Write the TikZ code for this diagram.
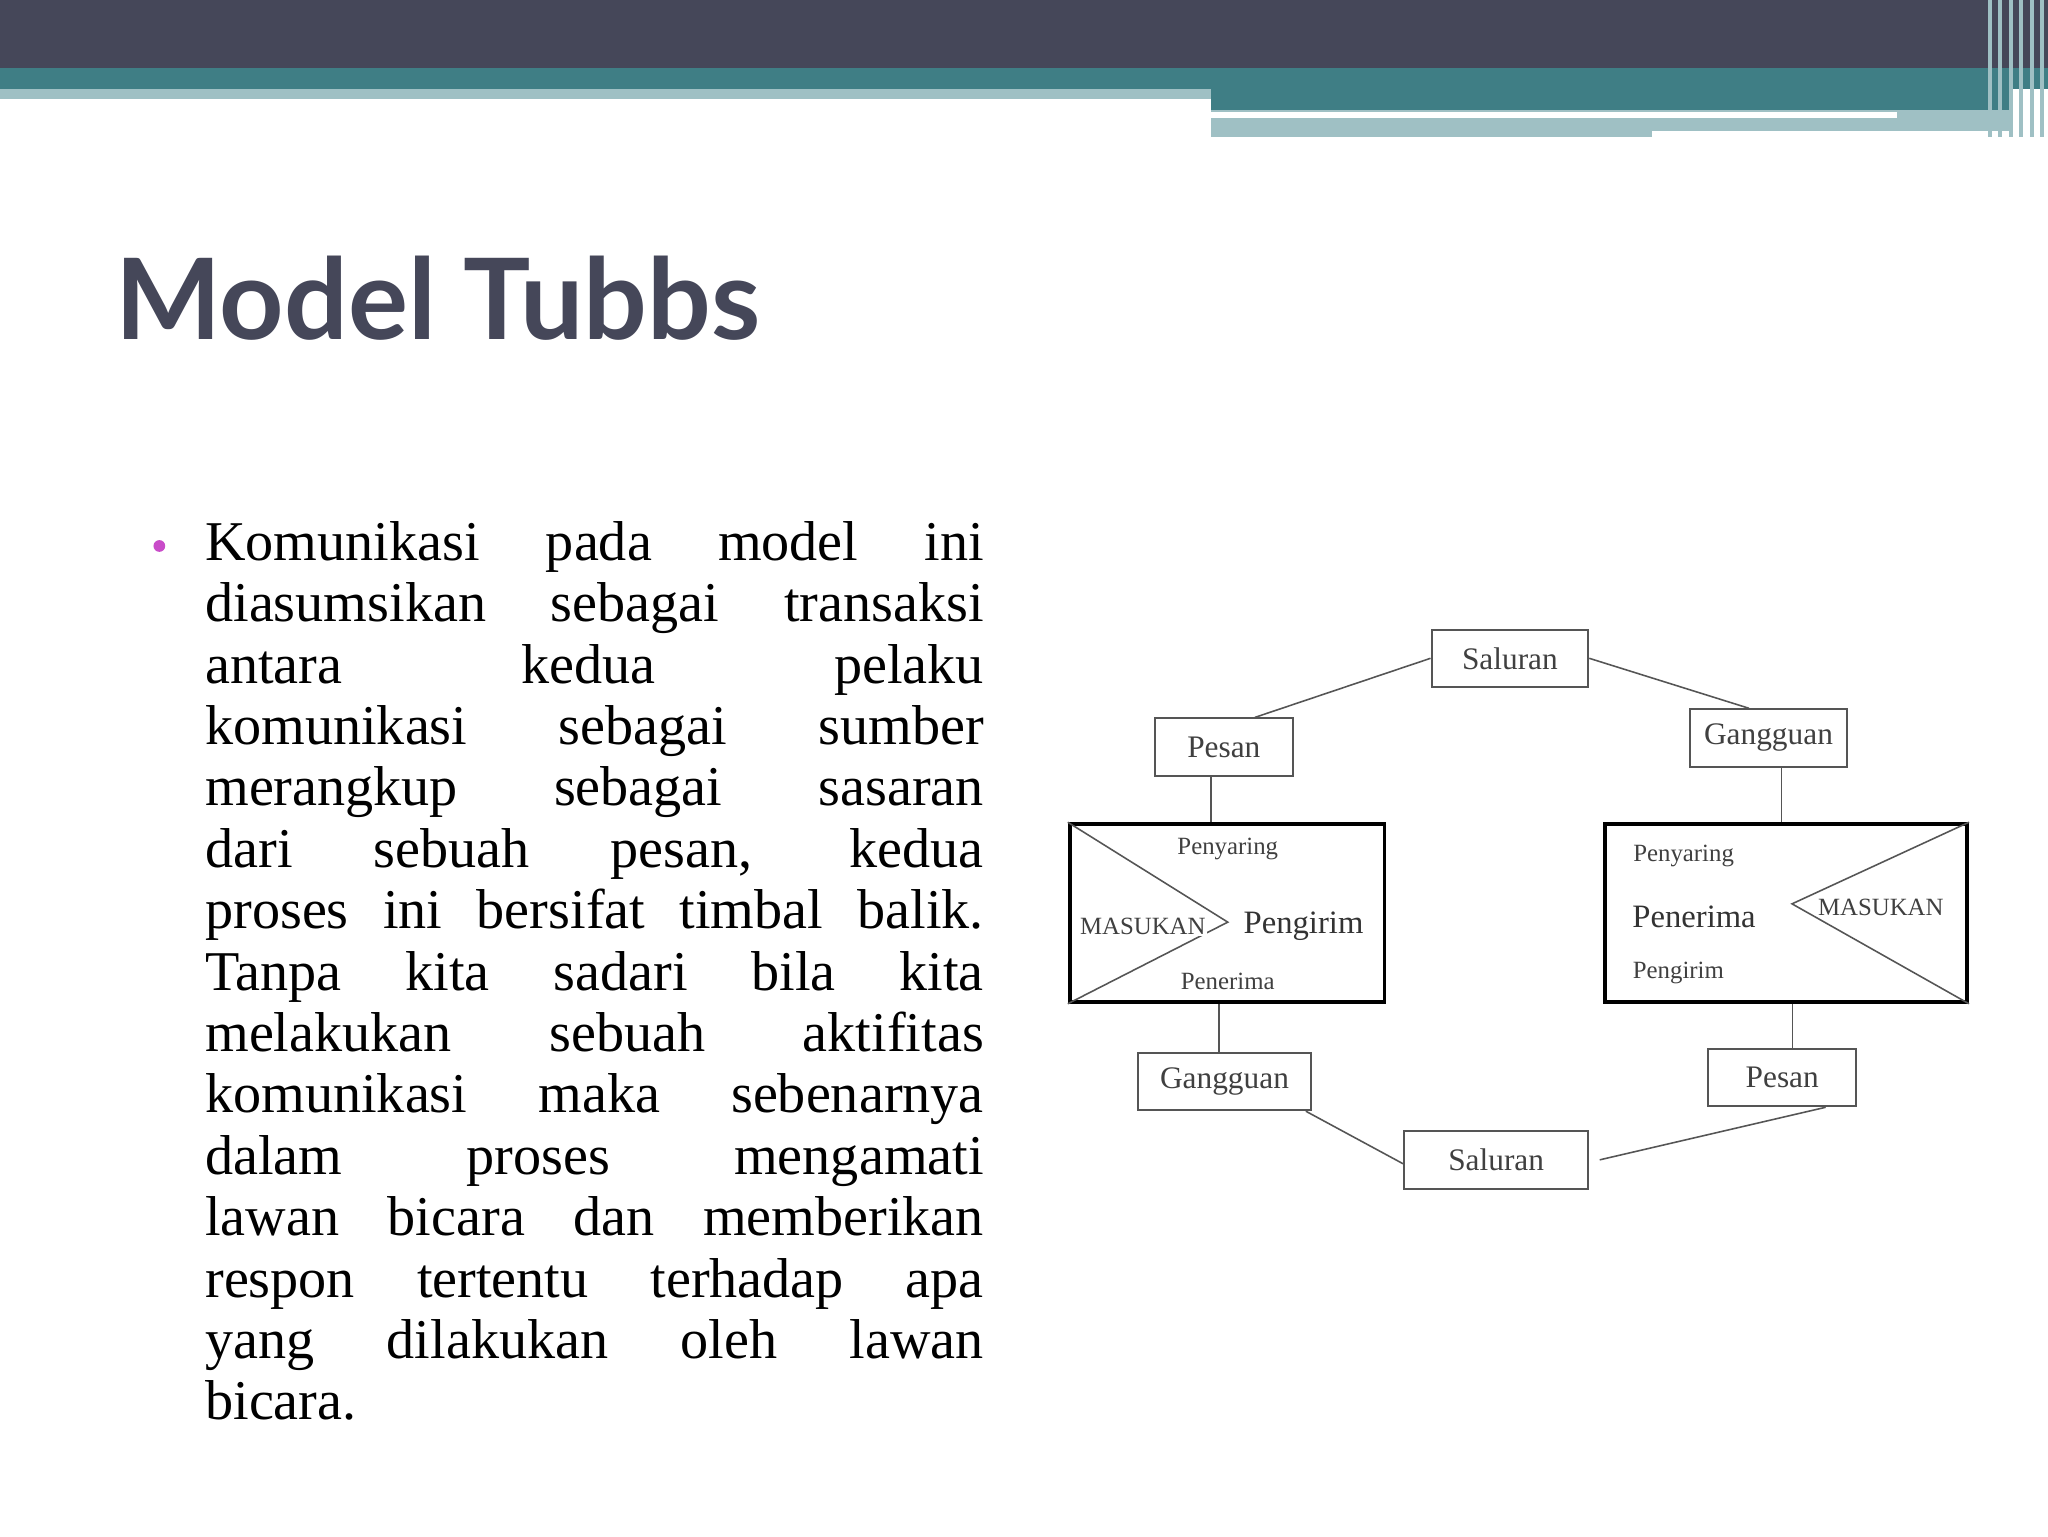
\documentclass[tikz,border=0pt]{standalone}
\usepackage{fontspec}
\setmainfont{Liberation Serif}
\newfontfamily\titlefont{Lato}
\definecolor{dark}{HTML}{454759}
\definecolor{teal}{HTML}{3F7E85}
\definecolor{lteal}{HTML}{9FC0C4}
\definecolor{gl}{HTML}{555555}
\tikzset{lbl/.style={draw=gl,line width=1.5pt,fill=white,minimum width=#1,minimum height=44pt,inner sep=0pt,font=\fontsize{24}{26}\selectfont,text=black!75},
 big/.style={draw=black,line width=3pt,inner sep=0pt},
 ln/.style={draw=gl,line width=1.2pt},
 sm/.style={font=\fontsize{19}{20}\selectfont,text=black!75,inner sep=0pt},
 md/.style={font=\fontsize{25}{26}\selectfont,text=black!80,inner sep=0pt}}
\newcommand\jl[1]{\makebox[596pt][s]{#1}}
\begin{document}
\begin{tikzpicture}[x=1pt,y=-1pt]
\useasboundingbox (0,0) rectangle (1568,1176);
\fill[white] (0,0) rectangle (1568,1176);
% header
\fill[dark] (0,0) rectangle (1568,52);
\fill[teal] (0,52) rectangle (1568,68);
\fill[lteal] (0,68) rectangle (927,76);
\fill[teal] (927,68) rectangle (1540,84);
\fill[lteal] (927,84) rectangle (1540,105);
\fill[white] (927,86) rectangle (1452,90);
\fill[white] (1265,100) rectangle (1540,105);
\foreach \x in {1522,1530,1538,1546,1554,1562}{\fill[lteal] (\x,0) rectangle (\x+3,105);}
% title
\node[anchor=base west,inner sep=0pt,text=dark,font=\titlefont\bfseries\fontsize{86}{90}\selectfont] (title) at (88,260) {Model Tubbs};
% bullet
\node[circle,fill=violet!60!magenta!70,inner sep=0pt,minimum size=9pt] (bul) at (122,418) {};
\node[anchor=north west,inner sep=0pt,align=left,font=\fontsize{43}{47}\selectfont] (body) at (157,399) {%
\jl{Komunikasi pada model ini}\\
\jl{diasumsikan sebagai transaksi}\\
\jl{antara kedua pelaku}\\
\jl{komunikasi sebagai sumber}\\
\jl{merangkup sebagai sasaran}\\
\jl{dari sebuah pesan, kedua}\\
\jl{proses ini bersifat timbal balik.}\\
\jl{Tanpa kita sadari bila kita}\\
\jl{melakukan sebuah aktifitas}\\
\jl{komunikasi maka sebenarnya}\\
\jl{dalam proses mengamati}\\
\jl{lawan bicara dan memberikan}\\
\jl{respon tertentu terhadap apa}\\
\jl{yang dilakukan oleh lawan}\\
bicara.};
% diagram
\node[lbl=120pt] (s1) at (1156,504) {Saluran};
\node[lbl=106pt] (p1) at (937,572) {Pesan};
\node[lbl=120pt] (g1) at (1354,565) {Gangguan};
\node[big,minimum width=241pt,minimum height=136pt] (L) at (939.5,699) {};
\node[big,minimum width=277pt,minimum height=136pt] (R) at (1367.5,699) {};
\node[lbl=133pt] (g2) at (937.5,828) {Gangguan};
\node[lbl=113pt] (p2) at (1364.5,825) {Pesan};
\node[lbl=141pt] (s2) at (1145.5,888) {Saluran};
\coordinate (lt) at (940,706); \coordinate (rt) at (1372,692);
\draw[ln] (L.north west) -- (lt) -- (L.south west);
\draw[ln] (R.north east) -- (rt) -- (R.south east);
\draw[ln] (p1.north east) ++(-30,0) -- (s1.west);
\draw[ln] (s1.east) -- ([xshift=-15pt]g1.north);
\draw[ln] ([xshift=-10pt]p1.south) -- ([xshift=-10pt]L.north -| p1.south);
\draw[ln] ([xshift=10pt]g1.south) -- ([xshift=10pt]R.north -| g1.south);
\draw[ln] (L.south -| g2.north) ++(-4,0) -- ([xshift=-4pt]g2.north);
\draw[ln] (R.south -| p2.north) ++(8,0) -- ([xshift=8pt]p2.north);
\draw[ln] ([xshift=-5pt]g2.south east) -- ([yshift=-3pt]s2.west);
\draw[ln] ([xshift=8pt]s2.east) -- ([xshift=-24pt]p2.south east);
\node[sm] (lpy) at (940,650) {Penyaring};
\node[sm,fill=white,inner sep=1pt] (lm) at (875,709) {MASUKAN};
\node[md] (lpg) at (998,709) {Pengirim};
\node[sm] (lpn) at (940,751) {Penerima};
\node[sm] (rpy) at (1289,655) {Penyaring};
\node[md] (rpn) at (1297,702) {Penerima};
\node[sm,fill=white,inner sep=1pt] (rm) at (1440,695) {MASUKAN};
\node[sm] (rpg) at (1285,745) {Pengirim};
\end{tikzpicture}
\end{document}
